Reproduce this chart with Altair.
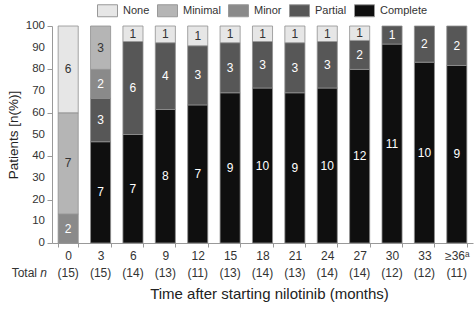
import altair as alt
import pandas as pd

months = ["0", "3", "6", "9", "12", "15", "18", "21", "24", "27", "30", "33", "≥36ᵃ"]
totals = [15, 15, 14, 13, 11, 13, 14, 13, 14, 14, 12, 12, 11]
categories = ["None", "Minimal", "Minor", "Partial", "Complete"]
none_n = [6, 0, 1, 1, 1, 1, 1, 1, 1, 1, 0, 0, 0]
minimal_n = [7, 3, 0, 0, 0, 0, 0, 0, 0, 0, 0, 0, 0]
minor_n = [2, 2, 0, 0, 0, 0, 0, 0, 0, 0, 0, 0, 0]
partial_n = [0, 3, 6, 4, 3, 3, 3, 3, 3, 2, 1, 2, 2]
complete_n = [0, 7, 7, 8, 7, 9, 10, 9, 10, 12, 11, 10, 9]
y_ticks = list(range(0, 101, 10))
colors = ["#e6e6e6", "#b5b5b5", "#8a8a8a", "#575757", "#0f0f0f"]

series = {"None": none_n, "Minimal": minimal_n, "Minor": minor_n,
          "Partial": partial_n, "Complete": complete_n}

rows = []
for i, m in enumerate(months):
    tot = sum(series[c][i] for c in categories)
    lo = 0.0
    for c in reversed(categories):
        v = series[c][i]
        if v == 0:
            continue
        hi = lo + v / tot * 100
        rows.append({"month": m, "category": c, "count": v, "lo": lo, "hi": hi,
                     "mid": (lo + hi) / 2})
        lo = hi
df = pd.DataFrame(rows)
tot_df = pd.DataFrame({"month": months, "label": [f"({t})" for t in totals]})
ytick_df = pd.DataFrame({"v": y_ticks})

FONT = "Liberation Sans"
W, H = 421, 217

xaxis = alt.Axis(title="Time after starting nilotinib (months)", labelAngle=0,
                 tickBand="extent", tickSize=4, tickColor="#999999",
                 domainColor="#999999", labelFontSize=12, labelColor="#333333",
                 labelPadding=3, titleFontSize=15, titleFontWeight="normal",
                 titleColor="#222222", titlePadding=25, labelFont=FONT,
                 titleFont=FONT, titleX=217, titleAlign="center")
xscale = alt.Scale(domain=months, paddingInner=0.38, paddingOuter=0.19)

yaxis = alt.Axis(title="Patients [n(%)]", values=y_ticks, tickCount=10,
                 labels=False,
                 tickSize=5, tickColor="#999999", domainColor="#999999",
                 titleFontSize=13.5, titleFontWeight="normal", titleColor="#222222",
                 titlePadding=26, grid=False, titleFont=FONT)
yscale = alt.Scale(domain=[0, 100], nice=False)

bars = alt.Chart(df).mark_bar(stroke="#8f8f8f", strokeWidth=0.8).encode(
    x=alt.X("month:N", sort=months, scale=xscale, axis=xaxis),
    y=alt.Y("lo:Q", scale=yscale, axis=yaxis),
    y2="hi:Q",
    color=alt.Color("category:N", scale=alt.Scale(domain=categories, range=colors),
                    legend=alt.Legend(title=None, orient="none", direction="horizontal",
                                      legendX=45, legendY=-26,
                                      symbolType="M-1,-0.6H1V0.6H-1Z", symbolSize=400,
                                      symbolStrokeColor="#999999", symbolStrokeWidth=1,
                                      symbolOpacity=1, labelFontSize=11,
                                      labelColor="#333333", labelOffset=5,
                                      columnPadding=5, labelFont=FONT)),
)

labels = alt.Chart(df).mark_text(fontSize=12, font=FONT, baseline="middle").encode(
    x=alt.X("month:N", sort=months, scale=xscale, axis=xaxis),
    y=alt.Y("mid:Q", scale=yscale, axis=yaxis),
    text="count:Q",
    color=alt.condition("datum.category == 'None' || datum.category == 'Minimal'",
                        alt.value("#333333"), alt.value("#ffffff")),
)

ytick_labels = alt.Chart(ytick_df).mark_text(
    fontSize=11.5, font=FONT, color="#333333", align="right", baseline="middle").encode(
    y=alt.Y("v:Q", scale=yscale, axis=yaxis),
    x=alt.value(-7),
    text="v:Q",
)

total_row = alt.Chart(tot_df).mark_text(fontSize=12, font=FONT, color="#333333",
                                        baseline="middle").encode(
    x=alt.X("month:N", sort=months, scale=xscale, axis=xaxis),
    y=alt.value(H + 30),
    text="label:N",
)

total_word = alt.Chart(pd.DataFrame({"t": ["Total"]})).mark_text(
    fontSize=12, font=FONT, color="#333333", align="right", baseline="middle").encode(
    x=alt.value(-15), y=alt.value(H + 30), text="t:N")
total_n = alt.Chart(pd.DataFrame({"t": ["n"]})).mark_text(
    fontSize=12, font=FONT, fontStyle="italic", color="#333333", align="right",
    baseline="middle").encode(
    x=alt.value(-5), y=alt.value(H + 30), text="t:N")

chart = alt.layer(bars, labels, ytick_labels, total_row, total_word, total_n).properties(
    width=W, height=H,
    padding={"left": 52, "top": 26, "right": 1, "bottom": 71},
    autosize=alt.AutoSizeParams(type="none"),
    background="white",
).configure_view(stroke=None)

chart.save("out.html", embed_options={"renderer": "svg", "actions": False})
